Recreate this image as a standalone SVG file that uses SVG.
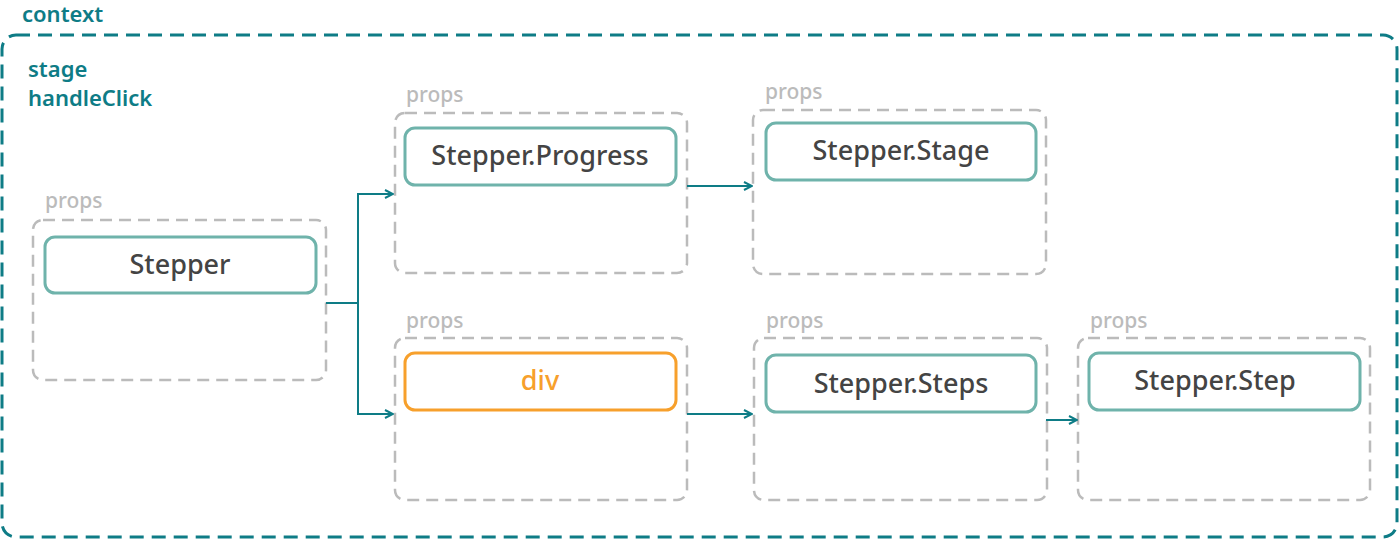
<svg xmlns="http://www.w3.org/2000/svg" width="1400" height="540" viewBox="0 0 1400 540">
<style>
.ctx{fill:none;stroke:#0e7c86;stroke-width:3;stroke-dasharray:14 8}
.outer{fill:none;stroke:#bbbbbb;stroke-width:2.5;stroke-dasharray:12 7}
.inner{fill:#fff;stroke:#6fb3ab;stroke-width:3}
.orange{fill:#fff;stroke:#f7a02c;stroke-width:3}
.t{font-family:"Noto Sans",Lato,sans-serif;font-size:27px;font-weight:500;fill:#444;text-anchor:middle}
.p{font-family:"Noto Sans",Lato,sans-serif;font-size:21px;font-weight:500;fill:#bbbbbb}
.c{font-family:"Noto Sans",Lato,sans-serif;font-size:22px;fill:#0e7c86;font-weight:600}
.ln{fill:none;stroke:#0e7c86;stroke-width:2}
</style>
<defs><marker id="a" viewBox="0 0 10 10" refX="9" refY="5" markerWidth="5" markerHeight="5" orient="auto"><path d="M1,1 L9,5 L1,9" fill="none" stroke="#0e7c86" stroke-width="2"/></marker></defs>
<g id="context"><rect class="ctx" x="2" y="35" width="1395" height="502" rx="14"/>
<text class="c" x="22" y="22">context</text><text class="c" x="28" y="77">stage</text><text class="c" x="28" y="106">handleClick</text></g>
<g id="stepper"><text class="p" x="45" y="208">props</text><rect class="outer" x="33" y="220" width="293" height="160" rx="10"/><rect class="inner" x="45" y="237" width="271" height="56" rx="10"/><text class="t" x="180" y="274">Stepper</text></g>
<g id="progress"><text class="p" x="406" y="102">props</text><rect class="outer" x="395" y="113" width="292" height="160" rx="10"/><rect class="inner" x="405" y="128" width="271" height="57" rx="10"/><text class="t" x="540" y="165">Stepper.Progress</text></g>
<g id="stage"><text class="p" x="765" y="99">props</text><rect class="outer" x="753" y="110" width="293" height="164" rx="10"/><rect class="inner" x="766" y="123" width="270" height="57" rx="10"/><text class="t" x="901" y="160">Stepper.Stage</text></g>
<g id="div"><text class="p" x="406" y="328">props</text><rect class="outer" x="395" y="338" width="292" height="162" rx="10"/><rect class="orange" x="405" y="353" width="271" height="57" rx="10"/><text class="t" x="540" y="390" style="fill:#f7a02c">div</text></g>
<g id="steps"><text class="p" x="766" y="328">props</text><rect class="outer" x="754" y="338" width="293" height="162" rx="10"/><rect class="inner" x="766" y="355" width="270" height="57" rx="10"/><text class="t" x="901" y="393">Stepper.Steps</text></g>
<g id="step"><text class="p" x="1090" y="328">props</text><rect class="outer" x="1078" y="338" width="292" height="162" rx="10"/><rect class="inner" x="1089" y="353" width="271" height="57" rx="10"/><text class="t" x="1215" y="390">Stepper.Step</text></g>
<g id="connectors">
<path class="ln" d="M326,303 H358 V194 H393" marker-end="url(#a)"/>
<path class="ln" d="M358,303 V414 H393" marker-end="url(#a)"/>
<path class="ln" d="M687,186 H752" marker-end="url(#a)"/>
<path class="ln" d="M687,414 H752" marker-end="url(#a)"/>
<path class="ln" d="M1046,420 H1077" marker-end="url(#a)"/>
</g>
</svg>
